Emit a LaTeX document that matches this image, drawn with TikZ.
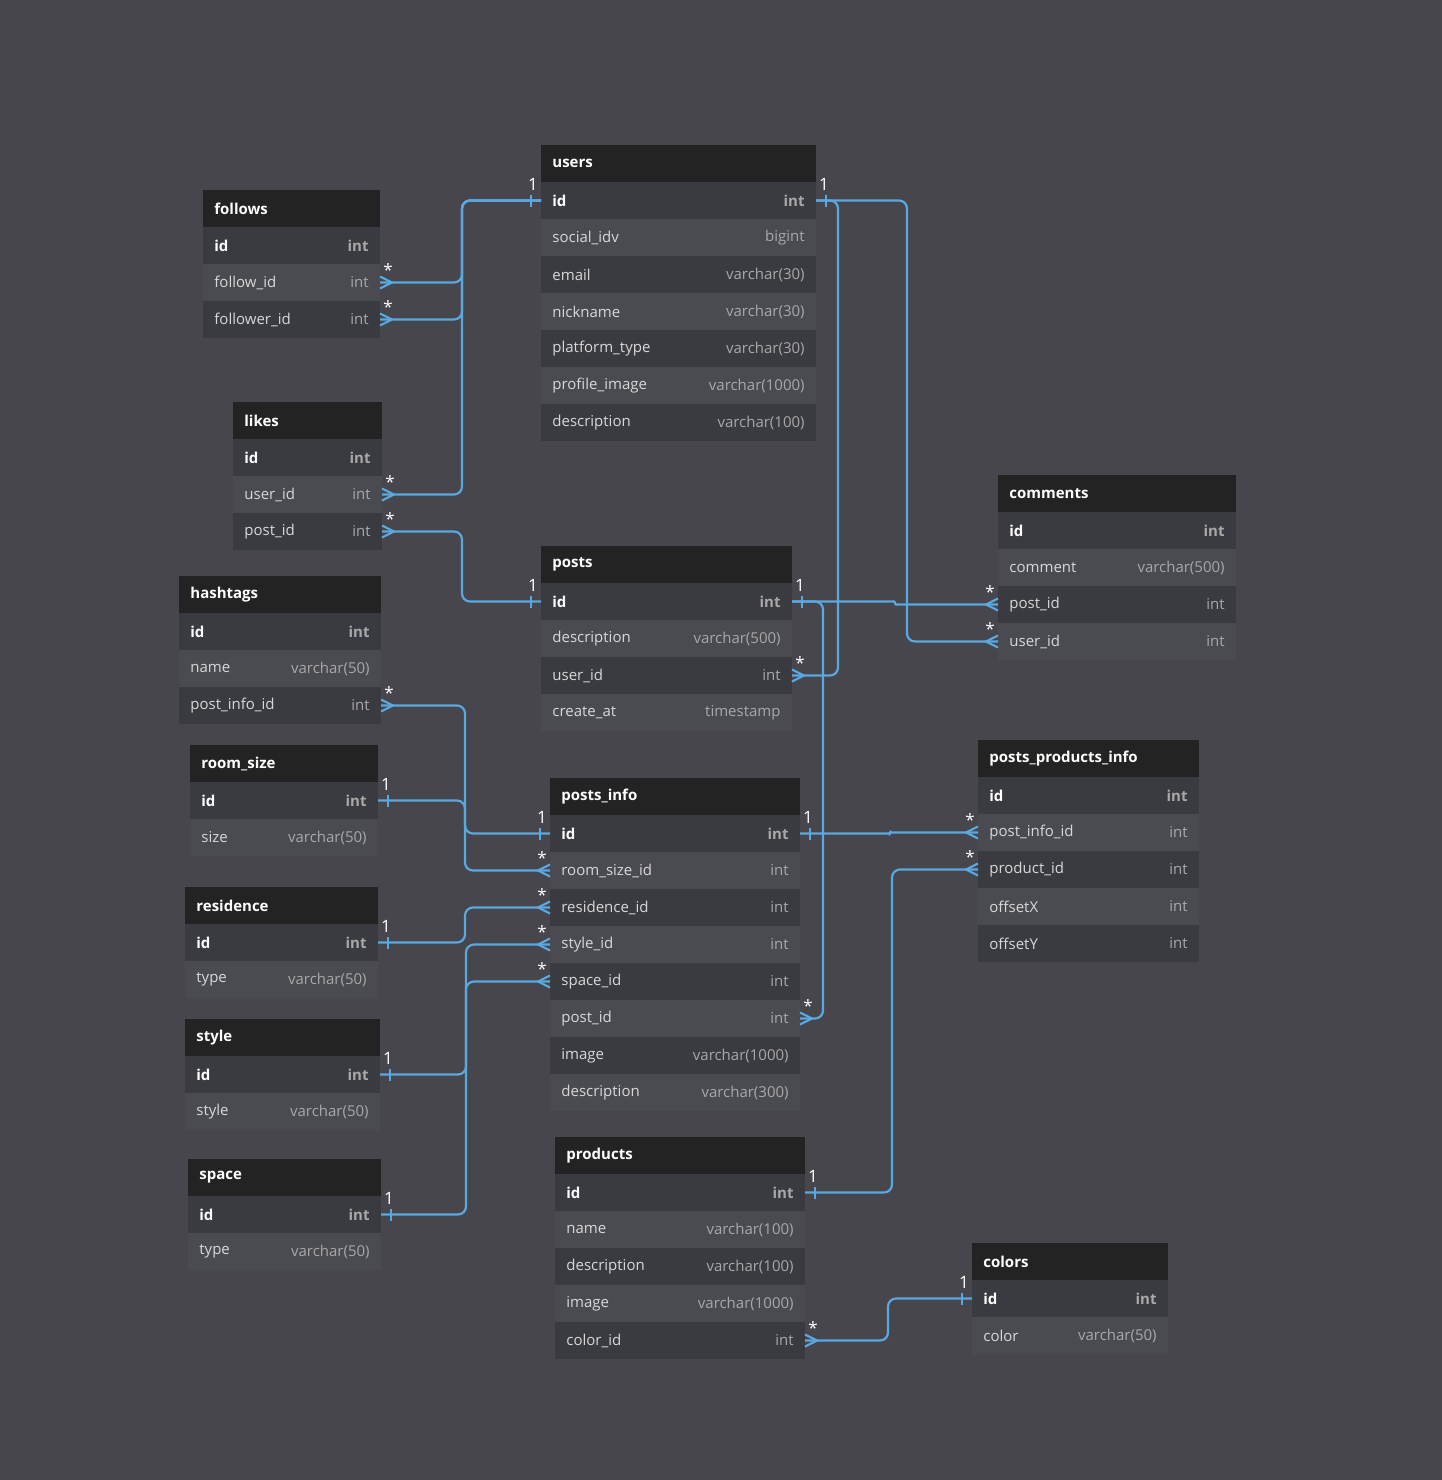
\documentclass[tikz,border=0pt]{standalone}
\usepackage{fontspec}
\setmainfont{Open Sans}
\usetikzlibrary{calc}
\definecolor{bg}{HTML}{46464C}
\definecolor{hdr}{HTML}{232323}
\definecolor{rowdark}{HTML}{3A3B40}
\definecolor{rowlight}{HTML}{4A4B51}
\definecolor{fieldc}{HTML}{D8D8D8}
\definecolor{typec}{HTML}{A8A8A8}
\definecolor{relc}{HTML}{5AA8E0}
\tikzset{
  hdrtext/.style={anchor=west,text=white,font=\fontsize{7.5}{9}\selectfont\bfseries,inner sep=0},
  fieldtext/.style={anchor=west,text=fieldc,font=\fontsize{7.5}{9}\selectfont,inner sep=0},
  typetext/.style={anchor=east,text=typec,font=\fontsize{7.5}{9}\selectfont,inner sep=0},
  rel/.style={draw=relc,line width=1.1pt,rounded corners=4pt},
  relmark/.style={draw=relc,line width=1.1pt},
  lbl/.style={text=white,font=\fontsize{8.5}{10}\selectfont,inner sep=0}
}
\newcommand\ertable[6]{%
  \fill[hdr] (#2,#4) rectangle (#3,#4+37);
  \node[hdrtext] (#1-h) at (#2+11,#4+18.5) {#5};
  \foreach \f/\t [count=\i] in {#6}{
    \ifodd\i \def\rc{rowdark}\else\def\rc{rowlight}\fi
    \fill[\rc] (#2,#4+37*\i) rectangle (#3,#4+37*\i+37);
    \coordinate (#1-\i-l) at (#2,#4+37*\i+18.5);
    \coordinate (#1-\i-r) at (#3,#4+37*\i+18.5);
    \ifnum\i=1
      \node[fieldtext,font=\fontsize{7.5}{9}\selectfont\bfseries,text=white] (#1-\i-f) at (#2+11,#4+37*\i+18.5) {\f};
      \node[typetext,font=\fontsize{7.5}{9}\selectfont\bfseries] (#1-\i-t) at (#3-11,#4+37*\i+18.5) {\t};
    \else
      \node[fieldtext] (#1-\i-f) at (#2+11,#4+37*\i+18.5) {\f};
      \node[typetext] (#1-\i-t) at (#3-11,#4+37*\i+18.5) {\t};
    \fi
  }
}
\newcommand\onemark[2]{%
  \draw[relmark] ($(#1)+(#2*10,-6)$) -- ($(#1)+(#2*10,6)$);
  \node[lbl] at ($(#1)+(#2*8,-16)$) {1};}
\newcommand\manymark[2]{%
  \draw[relmark] ($(#1)+(0,-6)$) -- ($(#1)+(#2*12,0)$) -- ($(#1)+(0,6)$);
  \node[lbl] at ($(#1)+(#2*8,-12)$) {*};}
\begin{document}
\begin{tikzpicture}[x=0.5pt,y=-0.5pt]
\fill[bg] (0,0) rectangle (1442,1480);
\useasboundingbox (0,0) rectangle (1442,1480);
\ertable{users}{541}{816}{145}{users}{id/int,social\_idv/bigint,email/varchar(30),nickname/varchar(30),platform\_type/varchar(30),profile\_image/varchar(1000),description/varchar(100)}
\ertable{follows}{203}{380}{190}{follows}{id/int,follow\_id/int,follower\_id/int}
\ertable{likes}{233}{382}{402}{likes}{id/int,user\_id/int,post\_id/int}
\ertable{hashtags}{179}{381}{576}{hashtags}{id/int,name/varchar(50),post\_info\_id/int}
\ertable{roomsize}{190}{378}{745}{room\_size}{id/int,size/varchar(50)}
\ertable{residence}{185}{378}{887}{residence}{id/int,type/varchar(50)}
\ertable{style}{185}{380}{1019}{style}{id/int,style/varchar(50)}
\ertable{space}{188}{381}{1159}{space}{id/int,type/varchar(50)}
\ertable{posts}{541}{792}{546}{posts}{id/int,description/varchar(500),user\_id/int,create\_at/timestamp}
\ertable{pinfo}{550}{800}{778}{posts\_info}{id/int,room\_size\_id/int,residence\_id/int,style\_id/int,space\_id/int,post\_id/int,image/varchar(1000),description/varchar(300)}
\ertable{products}{555}{805}{1137}{products}{id/int,name/varchar(100),description/varchar(100),image/varchar(1000),color\_id/int}
\ertable{comments}{998}{1236}{475}{comments}{id/int,comment/varchar(500),post\_id/int,user\_id/int}
\ertable{ppi}{978}{1199}{740}{posts\_products\_info}{id/int,post\_info\_id/int,product\_id/int,offsetX/int,offsetY/int}
\ertable{colors}{972}{1168}{1243}{colors}{id/int,color/varchar(50)}
% connectors
\draw[rel] (follows-2-r) -- ++(82,0) |- (users-1-l);
\draw[rel] (follows-3-r) -- ++(82,0) |- (users-1-l);
\draw[rel] (likes-2-r) -- ++(80,0) |- (users-1-l);
\draw[rel] (users-1-r) -- ++(22,0) |- (posts-3-r);
\draw[rel] (users-1-r) -- ++(91,0) |- (comments-4-l);
\draw[rel] (posts-1-l) -- ++(-79,0) |- (likes-3-r);
\draw[rel,rounded corners=0.5pt] (posts-1-r) -- ++(103,0) |- (comments-3-l);
\draw[rel] (posts-1-r) -- ++(31,0) |- (pinfo-6-r);
\draw[rel] (pinfo-1-l) -- ++(-85,0) |- (hashtags-3-r);
\draw[rel] (roomsize-1-r) -- ++(87,0) |- (pinfo-2-l);
\draw[rel] (residence-1-r) -- ++(87,0) |- (pinfo-3-l);
\draw[rel] (style-1-r) -- ++(86,0) |- (pinfo-4-l);
\draw[rel] (space-1-r) -- ++(85,0) |- (pinfo-5-l);
\draw[rel,rounded corners=0.5pt] (pinfo-1-r) -- ++(90,0) |- (ppi-2-l);
\draw[rel] (products-1-r) -- ++(87,0) |- (ppi-3-l);
\draw[rel] (products-5-r) -- ++(83,0) |- (colors-1-l);
% markers
\onemark{users-1-l}{-1}\onemark{users-1-r}{1}
\onemark{posts-1-l}{-1}\onemark{posts-1-r}{1}
\onemark{pinfo-1-l}{-1}\onemark{pinfo-1-r}{1}
\onemark{roomsize-1-r}{1}\onemark{residence-1-r}{1}
\onemark{style-1-r}{1}\onemark{space-1-r}{1}
\onemark{products-1-r}{1}\onemark{colors-1-l}{-1}
\manymark{follows-2-r}{1}\manymark{follows-3-r}{1}
\manymark{likes-2-r}{1}\manymark{likes-3-r}{1}
\manymark{hashtags-3-r}{1}\manymark{posts-3-r}{1}
\manymark{pinfo-6-r}{1}\manymark{products-5-r}{1}
\manymark{comments-3-l}{-1}\manymark{comments-4-l}{-1}
\manymark{pinfo-2-l}{-1}\manymark{pinfo-3-l}{-1}
\manymark{pinfo-4-l}{-1}\manymark{pinfo-5-l}{-1}
\manymark{ppi-2-l}{-1}\manymark{ppi-3-l}{-1}
\end{tikzpicture}
\end{document}
